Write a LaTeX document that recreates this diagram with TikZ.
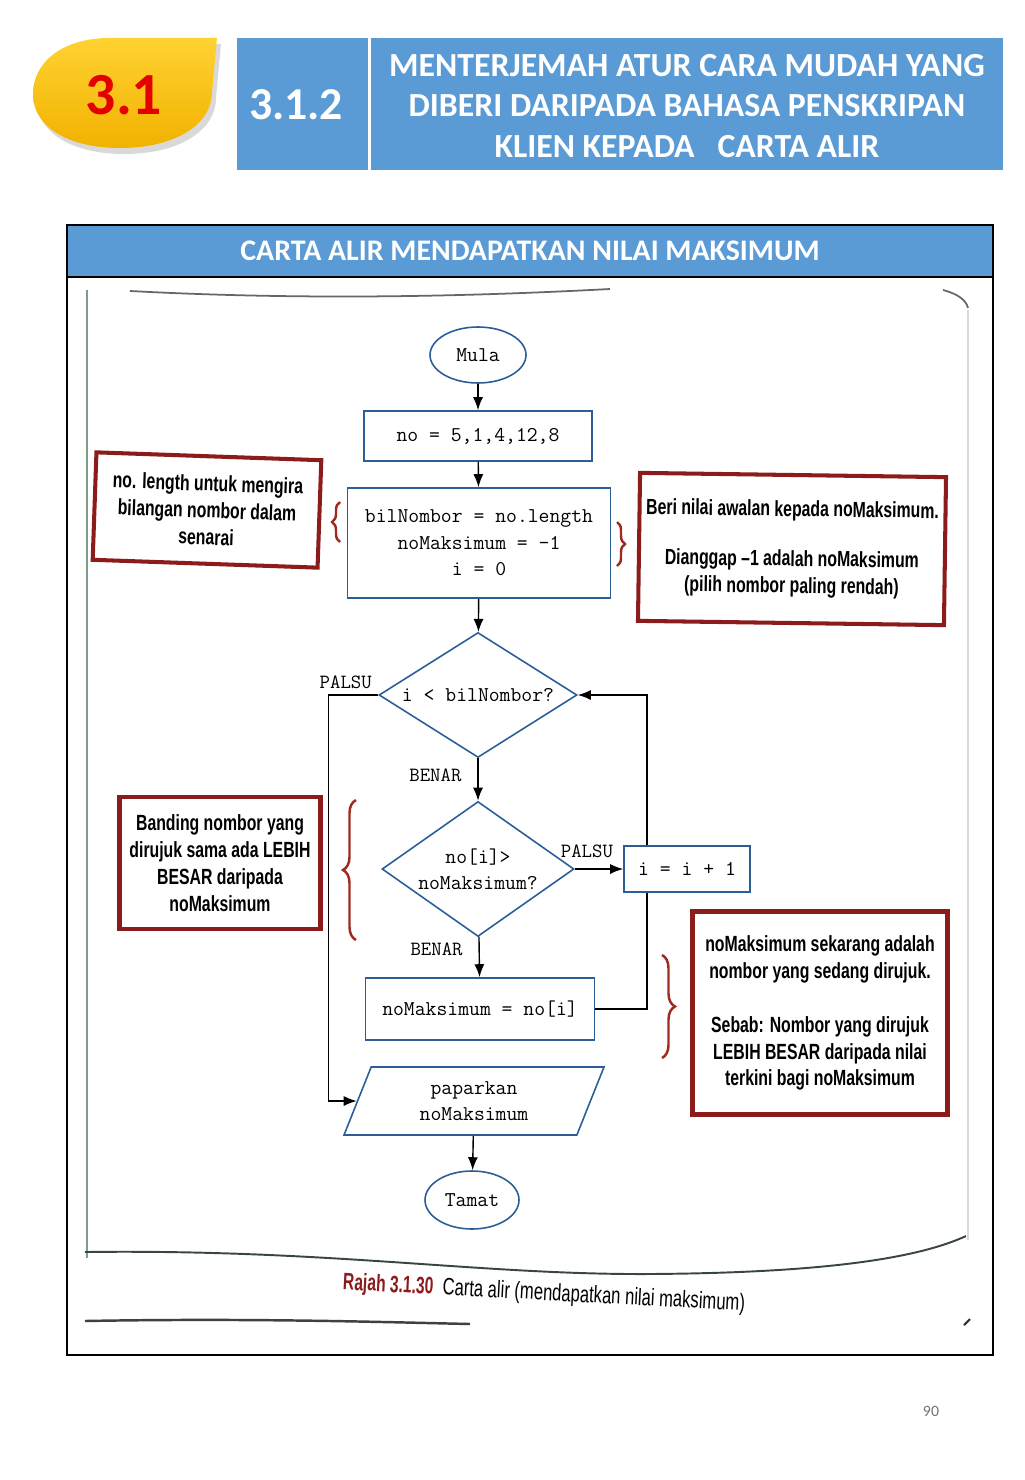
\documentclass[tikz,border=0pt]{standalone}
\usepackage{fontspec}
\setmainfont{Carlito}
\setmonofont{Latin Modern Mono}
\newfontfamily\notefont[FakeStretch=0.72]{Liberation Sans Bold}
\newfontfamily\captfont[FakeStretch=0.7]{Liberation Sans}
\newfontfamily\captbold[FakeStretch=0.66]{Liberation Sans Bold}
\usetikzlibrary{arrows.meta,positioning,shapes.geometric,decorations.pathreplacing}

\definecolor{hdrblue}{HTML}{5B9BD5}
\definecolor{flowblue}{HTML}{2B5E98}
\definecolor{notered}{HTML}{8C1C1C}
\definecolor{bracered}{HTML}{9E2A20}
\definecolor{badgeyel}{HTML}{FFD232}
\definecolor{badgeora}{HTML}{F2B200}
\definecolor{pagegreen}{HTML}{7F9C88}

\begin{document}
\begin{tikzpicture}[
  x=0.2mm, y=-0.2mm,
  flow/.style={draw=flowblue, line width=0.9pt, fill=white, align=center,
               inner sep=0pt, font=\ttfamily\fontsize{12}{15}\selectfont},
  term/.style={flow, ellipse},
  proc/.style={flow, rectangle},
  decide/.style={flow, diamond, shape aspect=1.6},
  io/.style={flow, trapezium, trapezium left angle=70,
             trapezium right angle=110, trapezium stretches=true},
  note/.style={draw=notered, line width=2.3pt, fill=white, align=center,
               inner sep=0pt, font=\notefont\fontsize{12.5}{15.3}\selectfont},
  lbl/.style={font=\ttfamily\fontsize{11.5}{13}\selectfont},
  arr/.style={-{Latex[length=2.6mm,width=2mm]}, line width=0.8pt},
  brc/.style={draw=bracered, line width=1.4pt, decorate},
  hdrtxt/.style={text=white, font=\bfseries, align=center},
]
\useasboundingbox (0,0) rectangle (1024,1480);

% badge
\fill[black!15] (221,44) -- (112,44) .. controls (62,44) and (37,70) .. (37,100)
  .. controls (37,134) and (74,154) .. (124,154)
  .. controls (180,154) and (216,130) .. (216,98) -- cycle;
\shade[top color=badgeyel, bottom color=badgeora]
  (217,38) -- (110,38) .. controls (60,38) and (33,64) .. (33,94)
  .. controls (33,128) and (70,148) .. (120,148)
  .. controls (176,148) and (212,124) .. (212,92) -- cycle;
\node[text=red!90!black, font=\bfseries\fontsize{34}{36}\selectfont] (badge) at (124,95) {3.1};

% title bar
\fill[hdrblue] (237,38) rectangle (368,170);
\fill[hdrblue] (371,38) rectangle (1003,170);
\node[hdrtxt, font=\bfseries\fontsize{26}{28}\selectfont] (sec) at (296,105) {3.1.2};
\node[hdrtxt, font=\bfseries\fontsize{19.2}{23.3}\selectfont] (title) at (687,106)
  {MENTERJEMAH ATUR CARA MUDAH YANG\\DIBERI DARIPADA BAHASA PENSKRIPAN\\KLIEN KEPADA \ \ CARTA ALIR};

% frame
\draw[line width=0.8pt] (67,225) rectangle (993,1355);
\draw[line width=0.8pt, fill=hdrblue] (67,225) rectangle (993,277);
\node[hdrtxt, font=\bfseries\fontsize{17}{19}\selectfont] (band) at (530,251)
  {CARTA ALIR MENDAPATKAN NILAI MAKSIMUM};

% scanned page edges
\draw[black!60, line width=1pt] (130,291) .. controls (300,300) and (460,297) .. (610,289);
\draw[black!60, line width=1pt] (943,290) .. controls (958,294) and (966,300) .. (968,308);
\draw[pagegreen, line width=1pt] (87,290) -- (87,1258);
\draw[black!15, line width=0.8pt] (968,310) -- (968,1240);
\draw[black!55!pagegreen, line width=1.1pt] (85,1252) .. controls (330,1249) and (480,1275) .. (650,1274)
  .. controls (800,1273) and (910,1262) .. (966,1236);
\draw[black!75, line width=1.4pt] (85,1321) .. controls (250,1318) and (380,1322) .. (470,1324);
\draw[black!80, line width=1.2pt] (964,1325) -- (970,1319);

% flowchart
\node[term, minimum width=19.2mm, minimum height=11.2mm] (mula) at (478,355) {Mula};
\node[proc, minimum width=45.6mm, minimum height=10mm] (nolist) at (478,436) {no = 5,1,4,12,8};
\node[proc, minimum width=52.6mm, minimum height=22mm] (setup) at (479,543)
  {bilNombor = no.length\\noMaksimum = -1\\i = 0};
\node[decide, minimum width=39.6mm, minimum height=25mm] (semak) at (478,695) {i < bilNombor?};
\node[decide, minimum width=38.4mm, minimum height=27mm] (banding) at (478,869)
  {no[i]>\\noMaksimum?};
\node[proc, minimum width=25.2mm, minimum height=9.2mm] (tambah) at (687,869) {i = i + 1};
\node[proc, minimum width=45.8mm, minimum height=12.4mm] (kemaskini) at (480,1009) {noMaksimum = no[i]};
\node[io, minimum width=52mm, minimum height=13.6mm] (papar) at (474,1101) {paparkan\\noMaksimum};
\node[term, minimum width=18.8mm, minimum height=11.6mm] (tamat) at (472,1200) {Tamat};
\coordinate (loopx) at (647,0);

\draw[arr] (mula) -- (nolist);
\draw[arr] (nolist) -- (setup);
\draw[arr] (setup) -- (semak);
\draw[arr] (semak) -- node[lbl, left=2mm, pos=0.4] {BENAR} (banding);
\draw[arr] (semak.west) -- node[lbl, above, pos=0.65] {PALSU} ++(-50,0) |- (papar.west);
\draw[arr] (banding) -- node[lbl, above=1mm, pos=0.25] {PALSU} (tambah);
\draw[arr] (banding) -- node[lbl, left=2mm, pos=0.3] {BENAR} (kemaskini);
\draw[arr] (tambah.north -| loopx) |- (semak.east);
\draw[line width=0.8pt] (kemaskini.east) -| (tambah.south -| loopx);
\draw[arr] (papar) -- (tamat);

% notes
\node[note, rotate=-2, minimum width=45mm, minimum height=21.5mm] (nota1) at (207,510)
  {no. length untuk mengira\\bilangan nombor dalam\\senarai};
\node[note, rotate=-0.8, minimum width=61.2mm, minimum height=29.6mm] (nota2) at (792,549)
  {Beri nilai awalan kepada noMaksimum.\\[4.6mm]Dianggap –1 adalah noMaksimum\\(pilih nombor paling rendah)};
\node[note, minimum width=40.2mm, minimum height=26.4mm] (nota3) at (220,863)
  {Banding nombor yang\\dirujuk sama ada LEBIH\\BESAR daripada\\noMaksimum};
\node[note, minimum width=51mm, minimum height=40.6mm] (nota4) at (820,1013)
  {noMaksimum sekarang adalah\\nombor yang sedang dirujuk.\\[5.4mm]Sebab: Nombor yang dirujuk\\LEBIH BESAR daripada nilai\\terkini bagi noMaksimum};

% braces
\draw[brc, decoration={brace, amplitude=1.6mm}] (340,542) -- (340,502);
\draw[brc, decoration={brace, amplitude=1.6mm}] (617,522) -- (617,566);
\draw[brc, decoration={brace, amplitude=2.6mm}] (356,940) -- (356,800);
\draw[brc, decoration={brace, amplitude=2.6mm}] (662,955) -- (662,1058);

% caption and page number
\node[rotate=-3, font=\captfont\fontsize{13.5}{15}\selectfont] (caption) at (544,1294)
  {\textcolor{notered}{\captbold Rajah 3.1.30}\ \ Carta alir (mendapatkan nilai maksimum)};
\node[text=black!55, font=\fontsize{9}{11}\selectfont] (page) at (931,1411) {90};
\end{tikzpicture}
\end{document}
